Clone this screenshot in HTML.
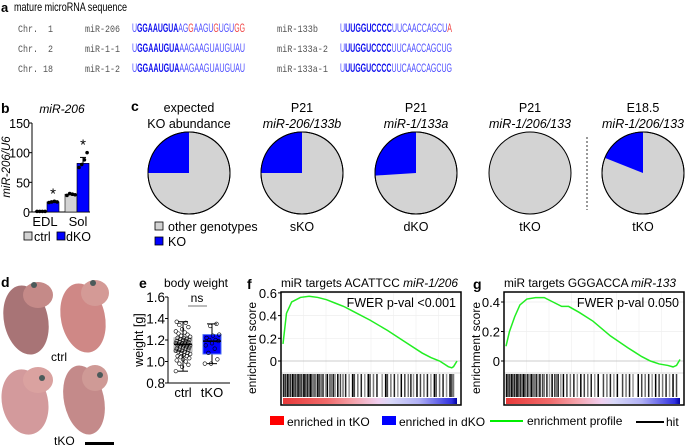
<!DOCTYPE html>
<html><head><meta charset="utf-8"><style>
html,body{margin:0;padding:0;background:#fff}
svg{display:block;font-family:"Liberation Sans",sans-serif}
</style></head><body>
<svg id="fig" width="685" height="445" viewBox="0 0 685 445" xmlns="http://www.w3.org/2000/svg">
<defs>
<linearGradient id="rank" x1="0" x2="1" y1="0" y2="0">
<stop offset="0" stop-color="#e83a3a"/><stop offset="0.25" stop-color="#f06a6a"/><stop offset="0.4" stop-color="#f4a0a8"/><stop offset="0.55" stop-color="#f0d0f0"/><stop offset="0.62" stop-color="#d8d8f8"/><stop offset="0.78" stop-color="#b0b0f4"/><stop offset="0.97" stop-color="#3030e0"/><stop offset="1" stop-color="#0000a0"/>
</linearGradient>
</defs>
<!-- panel a -->
<g>
<text x="1" y="12" font-size="13" font-weight="bold">a</text>
<text x="14" y="11" font-size="12" textLength="113" lengthAdjust="spacingAndGlyphs">mature microRNA sequence</text>
<g font-family="Liberation Mono, monospace" font-size="10.5" fill="#555">
<text x="18" y="32" textLength="35" lengthAdjust="spacingAndGlyphs" xml:space="preserve">Chr.  1</text><text x="85" y="32" textLength="35" lengthAdjust="spacingAndGlyphs">miR-206</text>
<text x="18" y="52" textLength="35" lengthAdjust="spacingAndGlyphs" xml:space="preserve">Chr.  2</text><text x="85" y="52" textLength="35" lengthAdjust="spacingAndGlyphs">miR-1-1</text>
<text x="18" y="72" textLength="35" lengthAdjust="spacingAndGlyphs" xml:space="preserve">Chr. 18</text><text x="85" y="72" textLength="35" lengthAdjust="spacingAndGlyphs">miR-1-2</text>
<text x="277" y="32" textLength="41" lengthAdjust="spacingAndGlyphs">miR-133b</text>
<text x="277" y="52" textLength="51" lengthAdjust="spacingAndGlyphs">miR-133a-2</text>
<text x="277" y="72" textLength="51" lengthAdjust="spacingAndGlyphs">miR-133a-1</text>
</g>
<g font-size="11.5" fill="#4a4aff">
<text x="132" y="32" textLength="113" lengthAdjust="spacingAndGlyphs">U<tspan font-weight="bold" fill="#1010ee">GGAAUGUA</tspan>AG<tspan fill="#f04040">G</tspan>AAGU<tspan fill="#f04040">G</tspan>UGU<tspan fill="#f04040">GG</tspan></text>
<text x="132" y="52" textLength="113" lengthAdjust="spacingAndGlyphs">U<tspan font-weight="bold" fill="#1010ee">GGAAUGUA</tspan>AAGAAGUAUGUAU</text>
<text x="132" y="72" textLength="113" lengthAdjust="spacingAndGlyphs">U<tspan font-weight="bold" fill="#1010ee">GGAAUGUA</tspan>AAGAAGUAUGUAU</text>
<text x="340" y="32" textLength="112" lengthAdjust="spacingAndGlyphs">U<tspan font-weight="bold" fill="#1010ee">UUGGUCCCC</tspan>UUCAACCAGCU<tspan fill="#f04040">A</tspan></text>
<text x="340" y="52" textLength="112" lengthAdjust="spacingAndGlyphs">U<tspan font-weight="bold" fill="#1010ee">UUGGUCCCC</tspan>UUCAACCAGCUG</text>
<text x="340" y="72" textLength="112" lengthAdjust="spacingAndGlyphs">U<tspan font-weight="bold" fill="#1010ee">UUGGUCCCC</tspan>UUCAACCAGCUG</text>
</g>
</g>
<!-- panel b -->
<g id="pb">
<text x="1" y="113" font-size="14" font-weight="bold">b</text>
<text x="62" y="113" font-size="12" font-style="italic" text-anchor="middle">miR-206</text>
<text transform="translate(10,167) rotate(-90)" font-size="11.5" font-style="italic" text-anchor="middle">miR-206/U6</text>
<text x="45" y="226" font-size="13" text-anchor="middle">EDL</text>
<text x="78" y="226" font-size="13" text-anchor="middle">Sol</text>
<rect x="24" y="232" width="8" height="8" fill="#d3d3d3" stroke="#000" stroke-width="0.8"/>
<text x="34" y="241" font-size="12.5">ctrl</text>
<rect x="57" y="232" width="8" height="8" fill="#0000ff" stroke="#000" stroke-width="0.8"/>
<text x="66" y="241" font-size="12.5">dKO</text>
</g>
<!-- panel c -->
<g id="pc">
<text x="131" y="111" font-size="14" font-weight="bold">c</text>
<line x1="587" y1="137" x2="587" y2="210" stroke="#000" stroke-dasharray="2,2" stroke-width="0.8"/>
<rect x="155" y="222" width="8" height="8" fill="#d3d3d3" stroke="#000" stroke-width="0.8"/>
<text x="168" y="231" font-size="12.5">other genotypes</text>
<rect x="155" y="237" width="8" height="8" fill="#0000ff" stroke="#000" stroke-width="0.8"/>
<text x="168" y="246" font-size="12.5">KO</text>
</g>
<!-- panel d -->
<g>
<text x="1" y="287" font-size="14" font-weight="bold">d</text>
<g>
<ellipse cx="26" cy="320" rx="22" ry="35" fill="#a87476" transform="rotate(-12 26 320)"/>
<ellipse cx="38" cy="295" rx="15" ry="13" fill="#c58a88"/>
<ellipse cx="83" cy="318" rx="22" ry="35" fill="#cf8886" transform="rotate(-12 83 318)"/>
<ellipse cx="95" cy="293" rx="14" ry="13" fill="#d49a96"/>
<ellipse cx="25" cy="402" rx="23" ry="33" fill="#d39a9c" transform="rotate(-12 25 402)"/>
<ellipse cx="38" cy="380" rx="15" ry="13" fill="#daa2a0"/>
<ellipse cx="84" cy="400" rx="20" ry="35" fill="#c48a8a" transform="rotate(-12 84 400)"/>
<ellipse cx="95" cy="378" rx="13" ry="13" fill="#cf9a96"/>
<circle cx="34" cy="285" r="3" fill="#4b5a5a"/><circle cx="93" cy="283" r="3" fill="#4b5a5a"/>
<circle cx="42" cy="378" r="3" fill="#4b5a5a"/><circle cx="100" cy="375" r="3" fill="#4b5a5a"/>
</g>
<text x="51" y="361" font-size="12">ctrl</text>
<text x="54" y="445" font-size="12">tKO</text>
<rect x="85" y="442" width="29" height="3" fill="#000"/>
</g>
<!-- panel e -->
<g id="pe">
<text x="139" y="288" font-size="14" font-weight="bold">e</text>
<text x="196" y="287" font-size="12" text-anchor="middle">body weight</text>
<text transform="translate(143,340) rotate(-90)" font-size="12.5" text-anchor="middle">weight [g]</text>
<text x="197" y="302" font-size="12" text-anchor="middle">ns</text>
<line x1="188" y1="306" x2="207" y2="306" stroke="#777" stroke-width="1"/>
</g>
<!-- panels f g -->
<g id="pf">
<text x="247" y="289" font-size="14" font-weight="bold">f</text>
<text x="281" y="287" font-size="11.5" textLength="177" lengthAdjust="spacingAndGlyphs">miR targets ACATTCC <tspan font-style="italic">miR-1/206</tspan></text>
<text transform="translate(256,348) rotate(-90)" font-size="12" text-anchor="middle">enrichment score</text>
</g>
<g id="pg">
<text x="473" y="289" font-size="14" font-weight="bold">g</text>
<text x="504" y="287" font-size="11.5" textLength="172" lengthAdjust="spacingAndGlyphs">miR targets GGGACCA <tspan font-style="italic">miR-133</tspan></text>
<text transform="translate(480,348) rotate(-90)" font-size="12" text-anchor="middle">enrichment score</text>
</g>
<g>
<rect x="270" y="416" width="14" height="9" fill="#ff0000"/>
<text x="287" y="426" font-size="12">enriched in tKO</text>
<rect x="382" y="416" width="14" height="9" fill="#0000ff"/>
<text x="399" y="426" font-size="12">enriched in dKO</text>
<line x1="490" y1="421" x2="523" y2="421" stroke="#00ee00" stroke-width="2"/>
<text x="527" y="425" font-size="12">enrichment profile</text>
<line x1="636" y1="422" x2="664" y2="422" stroke="#000" stroke-width="2"/>
<text x="666" y="426" font-size="12">hit</text>
</g>
</svg>
<script>
// ---- panel b data
const bGroups = ["EDL","Sol"];
const bCtrl = [1, 30];
const bDko = [17, 82];
const bDkoErr = [1.5, 10];
const bTicks = [0, 50, 100, 150];
const bCtrlPts = [[1,1,1,1],[28,31,30,29]];
const bDkoPts = [[16,17,18,17],[75,80,88,100]];
// ---- panel c data
const pieTitles1 = ["expected","P21","P21","P21","E18.5"];
const pieTitles2 = ["KO abundance","miR-206/133b","miR-1/133a","miR-1/206/133","miR-1/206/133"];
const pieLabels = ["","sKO","dKO","tKO","tKO"];
const pieKO = [0.25, 0.25, 0.26, 0, 0.19];
// ---- panel e data
const eTicks = [0.8, 1.0, 1.2, 1.4, 1.6];
const eGroups = ["ctrl","tKO"];
const eQ1 = [1.09, 1.07];
const eMed = [1.16, 1.19];
const eQ3 = [1.22, 1.25];
const eMin = [0.91, 0.98];
const eMax = [1.37, 1.35];
const eCtrlPts = [0.91,0.95,0.97,0.98,1.0,1.01,1.02,1.03,1.04,1.05,1.05,1.06,1.07,1.08,1.08,1.09,1.09,1.1,1.1,1.11,1.11,1.12,1.12,1.13,1.13,1.14,1.14,1.15,1.15,1.15,1.16,1.16,1.16,1.17,1.17,1.17,1.18,1.18,1.19,1.19,1.2,1.2,1.21,1.21,1.22,1.22,1.23,1.24,1.25,1.26,1.27,1.28,1.3,1.32,1.34,1.36,1.37];
const eTkoPts = [0.98,0.98,1.02,1.08,1.12,1.15,1.17,1.19,1.2,1.2,1.22,1.24,1.25,1.33,1.35];
// ---- panel f/g data
const fTicks = [0, 0.2, 0.4, 0.6];
const fX = [0,0.02,0.05,0.1,0.15,0.2,0.25,0.3,0.35,0.4,0.5,0.6,0.7,0.8,0.85,0.9,0.93,0.95,0.97,0.98,1.0];
const fY = [0.15,0.42,0.52,0.56,0.57,0.56,0.54,0.51,0.48,0.44,0.36,0.27,0.17,0.07,0.03,0.0,-0.03,-0.05,-0.06,-0.05,0.0];
const gTicks = [0, 0.2, 0.4];
const gX = [0,0.02,0.05,0.08,0.12,0.17,0.22,0.27,0.32,0.36,0.42,0.5,0.6,0.7,0.78,0.83,0.88,0.93,0.96,0.98,1.0];
const gY = [0.1,0.2,0.3,0.38,0.42,0.43,0.43,0.4,0.37,0.37,0.33,0.27,0.17,0.09,0.03,0.0,-0.02,-0.03,-0.04,-0.03,0.01];
const fHits = [0.003,0.008,0.012,0.017,0.022,0.027,0.032,0.038,0.045,0.05,0.056,0.062,0.07,0.075,0.08,0.087,0.093,0.1,0.106,0.112,0.12,0.128,0.135,0.142,0.15,0.157,0.165,0.175,0.185,0.19,0.2,0.21,0.22,0.23,0.245,0.255,0.27,0.28,0.29,0.3,0.315,0.33,0.345,0.36,0.38,0.4,0.41,0.43,0.45,0.47,0.49,0.5,0.52,0.54,0.57,0.59,0.6,0.62,0.64,0.66,0.68,0.7,0.72,0.735,0.75,0.77,0.79,0.81,0.83,0.85,0.87,0.88,0.9,0.92,0.94,0.96,0.97,0.98];
const gHits = [0.003,0.009,0.014,0.02,0.026,0.032,0.038,0.045,0.05,0.057,0.063,0.07,0.078,0.085,0.092,0.1,0.108,0.115,0.125,0.135,0.145,0.155,0.165,0.175,0.185,0.195,0.21,0.22,0.235,0.25,0.265,0.28,0.29,0.3,0.315,0.33,0.35,0.37,0.39,0.41,0.43,0.45,0.47,0.49,0.51,0.53,0.56,0.58,0.6,0.62,0.64,0.67,0.69,0.71,0.73,0.76,0.78,0.8,0.82,0.84,0.86,0.88,0.9,0.92,0.94,0.96,0.98];

const NS="http://www.w3.org/2000/svg";
function mk(parent, tag, attrs){const e=document.createElementNS(NS,tag);for(const k in attrs)e.setAttribute(k,attrs[k]);parent.appendChild(e);return e;}

// panel b
(function(){
  const g=document.getElementById('pb');
  const y=v=>212-v*(89/150);
  mk(g,'line',{x1:32,y1:123,x2:32,y2:212,stroke:'#000','stroke-width':1});
  mk(g,'line',{x1:32,y1:212,x2:90,y2:212,stroke:'#000','stroke-width':1});
  bTicks.forEach(t=>{mk(g,'line',{x1:29,y1:y(t),x2:32,y2:y(t),stroke:'#000'});
    const tx=mk(g,'text',{x:30,y:y(t)+5,'font-size':12.5,'text-anchor':'end'});tx.textContent=t;
    
    });
  const gx=[35,65];
  bGroups.forEach((n,i)=>{
    const c=mk(g,'rect',{x:gx[i],y:y(bCtrl[i]),width:12,height:212-y(bCtrl[i]),fill:'#d3d3d3',stroke:'#000','stroke-width':0.6});
    
    
    const d=mk(g,'rect',{x:gx[i]+12,y:y(bDko[i]),width:12,height:212-y(bDko[i]),fill:'#0000ff',stroke:'#000','stroke-width':0.6});
    
    
    mk(g,'line',{x1:gx[i]+18,y1:y(bDko[i]+bDkoErr[i]),x2:gx[i]+18,y2:y(bDko[i]),stroke:'#000'});
    mk(g,'line',{x1:gx[i]+15,y1:y(bDko[i]+bDkoErr[i]),x2:gx[i]+21,y2:y(bDko[i]+bDkoErr[i]),stroke:'#000'});
    bCtrlPts[i].forEach((v,j)=>mk(g,'circle',{cx:gx[i]+2+j*2.7,cy:y(v),r:1.8,fill:'#000'}));
    bDkoPts[i].forEach((v,j)=>mk(g,'circle',{cx:gx[i]+14+j*2.7,cy:y(v),r:1.8,fill:'#000'}));
    const s=mk(g,'text',{x:gx[i]+18,y:y(Math.max(...bDkoPts[i]))-3,'font-size':15,'text-anchor':'middle'});s.textContent='*';
    
    
  });
})();

// panel c
(function(){
  const g=document.getElementById('pc');
  const cx=[189,302,416,530,643], cy=173, r=41;
  pieKO.forEach((f,i)=>{
    const c=mk(g,'circle',{cx:cx[i],cy:cy,r:r,fill:'#d3d3d3',stroke:'#000','stroke-width':1});
    
    
    if(f>0){
      const a=f*2*Math.PI; const ex=cx[i]-r*Math.sin(a), ey=cy-r*Math.cos(a);
      const p=mk(g,'path',{d:`M${cx[i]},${cy} L${cx[i]},${cy-r} A${r},${r} 0 ${f>0.5?1:0} 0 ${ex},${ey} Z`,fill:'#0000ff'});
      
      
      mk(g,'circle',{cx:cx[i],cy:cy,r:r,fill:'none',stroke:'#000','stroke-width':1});
    }
    const t1=mk(g,'text',{x:cx[i],y:112,'font-size':12.5,'text-anchor':'middle'});t1.textContent=pieTitles1[i];
    
    
    const t2=mk(g,'text',{x:cx[i],y:128,'font-size':12.5,'text-anchor':'middle'});t2.textContent=pieTitles2[i];
    if(i>0)t2.setAttribute('font-style','italic');
    
    
    if(pieLabels[i]){const t3=mk(g,'text',{x:cx[i],y:231,'font-size':12.5,'text-anchor':'middle'});t3.textContent=pieLabels[i];
    
    }
  });
})();

// panel e
(function(){
  const g=document.getElementById('pe');
  const y=v=>383-(v-0.8)*(86/0.8);
  mk(g,'line',{x1:168,y1:y(1.6),x2:168,y2:383,stroke:'#000'});
  mk(g,'line',{x1:168,y1:383,x2:230,y2:383,stroke:'#000'});
  eTicks.forEach(t=>{mk(g,'line',{x1:165,y1:y(t),x2:168,y2:y(t),stroke:'#000'});
    const tx=mk(g,'text',{x:165,y:y(t)+5,'font-size':13.5,'text-anchor':'end'});tx.textContent=t.toFixed(1);
    
    });
  const gx=[183,212];
  eGroups.forEach((n,i)=>{
    const lx=mk(g,'text',{x:gx[i],y:397,'font-size':13,'text-anchor':'middle'});lx.textContent=n;
    
    
    mk(g,'line',{x1:gx[i],y1:y(eMin[i]),x2:gx[i],y2:y(eMax[i]),stroke:'#000'});
    [eMin[i],eMax[i]].forEach(v=>mk(g,'line',{x1:gx[i]-5,y1:y(v),x2:gx[i]+5,y2:y(v),stroke:'#000'}));
    const b=mk(g,'rect',{x:gx[i]-9,y:y(eQ3[i]),width:18,height:y(eQ1[i])-y(eQ3[i]),fill:i?'#0000ff':'#d3d3d3',stroke:i?'#4a6cf0':'#bbb'});
    
    
    mk(g,'line',{x1:gx[i]-9,y1:y(eMed[i]),x2:gx[i]+9,y2:y(eMed[i]),stroke:'#000','stroke-width':1.5});
    const pts=i?eTkoPts:eCtrlPts;
    pts.forEach((v,j)=>mk(g,'circle',{cx:gx[i]+((j*7)%17-8)*0.9,cy:y(v),r:1.8,fill:'none',stroke:'#000','stroke-width':0.6}));
  });
})();

// panels f,g
function gsea(id,x0,x1,yZero,perUnit,ticks,xs,ys,hits){
  const g=document.getElementById(id);
  const top=292,bot=405,runBot=373;
  const X=f=>x0+2+f*(x1-x0-6), Y=v=>yZero-v*perUnit;
  for(let k=1;k<8;k++)mk(g,'line',{x1:x0+k*(x1-x0)/8,y1:top,x2:x0+k*(x1-x0)/8,y2:runBot,stroke:'#eee','stroke-width':0.6});
  ticks.forEach(t=>{mk(g,'line',{x1:x0,y1:Y(t),x2:x1,y2:Y(t),stroke:t===0?'#bbb':'#eee','stroke-width':0.7});
    mk(g,'line',{x1:x0-3,y1:Y(t),x2:x0,y2:Y(t),stroke:'#000'});
    const tx=mk(g,'text',{x:x0-4,y:Y(t)+5,'font-size':13,'text-anchor':'end'});tx.textContent=t===0?'0':t.toFixed(1);
    
    });
  mk(g,'line',{x1:x0,y1:runBot,x2:x1,y2:runBot,stroke:'#ccc','stroke-width':0.8});
  hits.forEach((h,j)=>mk(g,'line',{x1:X(h),y1:runBot+1,x2:X(h),y2:397,stroke:['#000','#444','#777','#222','#999'][j%5],'stroke-width':1.5}));
  mk(g,'rect',{x:x0+2,y:398,width:x1-x0-6,height:6,fill:'url(#rank)'});
  const pl=mk(g,'polyline',{points:xs.map((v,i)=>X(v)+','+Y(ys[i])).join(' '),fill:'none',stroke:'#22ee22','stroke-width':1.5});
  
  
  const fr=mk(g,'rect',{x:x0,y:top,width:x1-x0,height:bot-top,fill:'none',stroke:'#000','stroke-width':1.5});
  
  
  const t=mk(g,'text',{x:x1-5,y:307,'font-size':12.5,'text-anchor':'end'});
  t.textContent=id==='pf'?'FWER p-val <0.001':'FWER p-val 0.050';
  
  
}
gsea('pf',281,461,361,113.5,fTicks,fX,fY,fHits);
gsea('pg',504,684,361,147.5,gTicks,gX,gY,gHits);
</script>
</body></html>
